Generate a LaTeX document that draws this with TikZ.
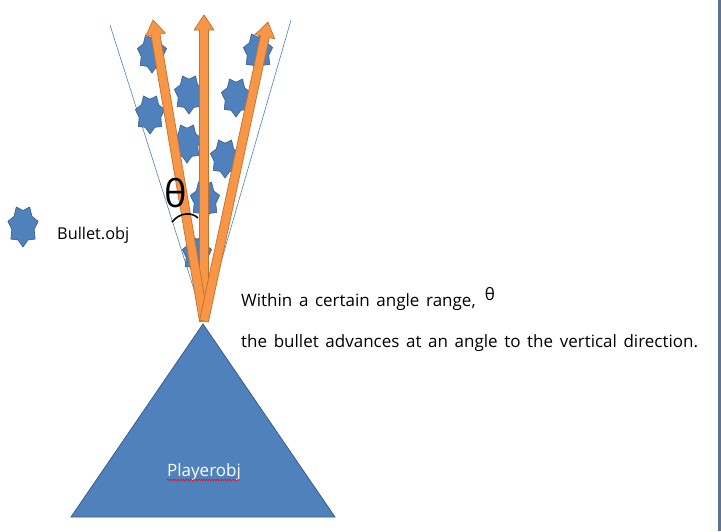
\documentclass[tikz,border=0pt]{standalone}
\usepackage{fontspec}
\newfontfamily\uifont{Open Sans}[WordSpace=1.5]
\usetikzlibrary{calc,decorations.pathmorphing}
\definecolor{offblue}{HTML}{4F81BD}
\definecolor{offblueline}{HTML}{385D8A}
\definecolor{offorange}{HTML}{F79646}
\definecolor{offorangeline}{HTML}{C2702F}
\definecolor{sidebar}{RGB}{95,115,145}
\tikzset{
  starshape/.style={fill=offblue, draw=offblueline, line width=0.6pt},
  arrowshape/.style={fill=offorange, draw=offorangeline, line width=0.7pt, line join=miter},
  rangeline/.style={draw=offblue, line width=0.6pt},
  label/.style={font=\uifont\fontsize{17}{20}\selectfont, inner sep=0pt}
}
\newcommand{\sevenstar}[4]{% x, y, rx, ry
  \path[starshape, shift={(#1,#2)}]
    (90:#3 and #4)
    \foreach \k in {1,...,13}{
      \ifodd\k -- ({90+\k*360/14}:0.74*#3 and 0.74*#4)
      \else -- ({90+\k*360/14}:#3 and #4)\fi
    } -- cycle;
}
\newcommand{\fatarrow}[2]{% origin, tip
  \path[arrowshape]
    ($(#1)!4.5pt!90:(#2)$) --
    ($($(#2)!15pt!(#1)$)!4.5pt!-90:(#1)$) --
    ($($(#2)!15pt!(#1)$)!10pt!-90:(#1)$) --
    (#2) --
    ($($(#2)!15pt!(#1)$)!10pt!90:(#1)$) --
    ($($(#2)!15pt!(#1)$)!4.5pt!90:(#1)$) --
    ($(#1)!4.5pt!-90:(#2)$) -- cycle;
}
\begin{document}
\begin{tikzpicture}[x=1pt,y=-1pt]
\useasboundingbox (0,0) rectangle (721,531);
\fill[white] (0,0) rectangle (721,531);
\fill[sidebar] (718,0) rectangle (721,531);

% range lines
\coordinate (apex) at (204,321);
\coordinate (lineL) at (110,25);
\coordinate (lineR) at (291,20);
\draw[rangeline] (apex) -- (lineL);
\draw[rangeline] (apex) -- (lineR);

% bullets
\sevenstar{152}{53}{15}{20}
\sevenstar{258}{52}{15}{20}
\sevenstar{189}{94}{15}{20}
\sevenstar{150}{114}{15}{20}
\sevenstar{236}{97}{15}{20}
\sevenstar{187}{143}{15}{20}
\sevenstar{225}{158}{15}{20}
\sevenstar{205}{200}{15}{20}
\sevenstar{197}{254}{15}{20}

% arrows
\coordinate (tipC) at (204,15);
\coordinate (tipL) at (153,20);
\coordinate (tipR) at (268,22);
\fatarrow{apex}{tipC}
\fatarrow{apex}{tipL}
\fatarrow{apex}{tipR}

% theta and arc
\node[inner sep=0pt, font=\uifont\fontsize{38}{40}\selectfont] (theta) at (176,193) {θ};
\draw[line width=1.6pt] (172,222) .. controls (180,212) and (192,212) .. (198,218);

% player triangle
\path[fill=offblue, draw=offblueline, line width=0.8pt] (203,324) -- (335,517) -- (71,517) -- cycle;
\node[label, text=white, anchor=base] (player) at (204,476) {Playerobj};
\draw[red, line width=0.5pt, decorate, decoration={snake, amplitude=0.7pt, segment length=2.6pt}] (167,480) -- (240,480);

% legend
\sevenstar{23}{226}{15.5}{21}
\node[label, font=\uifont\fontsize{16.3}{20}\selectfont, anchor=base west] (bulletlbl) at (57,239.5) {Bullet.obj};

% description
\node[label, anchor=base west] (line1) at (241,306.5) {Within a certain angle range,};
\node[label, anchor=base] (theta2) at (490,300) {θ};
\node[label, anchor=base west] (line2) at (241,347) {the bullet advances at an angle to the vertical direction.};
\end{tikzpicture}
\end{document}
